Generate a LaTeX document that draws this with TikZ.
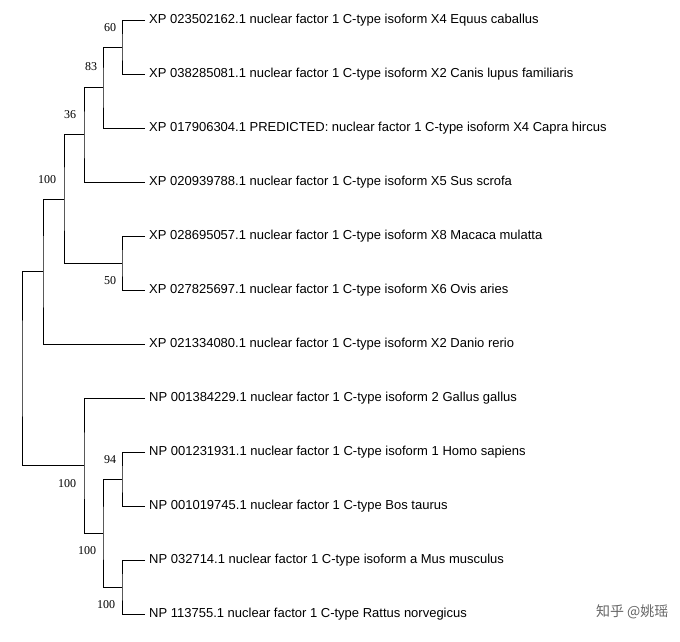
\documentclass[tikz,border=0pt]{standalone}
\usepackage{fontspec}
\setmainfont{Liberation Sans}
\newfontfamily\bsfont{Liberation Serif}
\newfontfamily\cjk{Noto Sans CJK SC}
\begin{document}
\begin{tikzpicture}[x=1pt,y=-1pt,
  br/.style={draw=black,line width=0.8pt},
  leaf/.style={anchor=west,font=\fontsize{13}{15}\selectfont,inner sep=0pt},
  bs/.style={font=\bsfont\fontsize{12}{14}\selectfont,inner sep=0pt}]
\useasboundingbox (0,0) rectangle (680,642);
\fill[white] (0,0) rectangle (680,642);
% leaves
\foreach \i/\y/\t in {1/20/{XP 023502162.1 nuclear factor 1 C-type isoform X4 Equus caballus},
 2/74/{XP 038285081.1 nuclear factor 1 C-type isoform X2 Canis lupus familiaris},
 3/128/{XP 017906304.1 PREDICTED: nuclear factor 1 C-type isoform X4 Capra hircus},
 4/182/{XP 020939788.1 nuclear factor 1 C-type isoform X5 Sus scrofa},
 5/236/{XP 028695057.1 nuclear factor 1 C-type isoform X8 Macaca mulatta},
 6/290/{XP 027825697.1 nuclear factor 1 C-type isoform X6 Ovis aries},
 7/344/{XP 021334080.1 nuclear factor 1 C-type isoform X2 Danio rerio},
 8/398/{NP 001384229.1 nuclear factor 1 C-type isoform 2 Gallus gallus},
 9/452/{NP 001231931.1 nuclear factor 1 C-type isoform 1 Homo sapiens},
 10/506/{NP 001019745.1 nuclear factor 1 C-type Bos taurus},
 11/560/{NP 032714.1 nuclear factor 1 C-type isoform a Mus musculus},
 12/614/{NP 113755.1 nuclear factor 1 C-type Rattus norvegicus}}
 {\node[leaf] (L\i) at (149,\y) {\t}; \coordinate (E\i) at (145,\y);}
% internal nodes
\coordinate (A) at (122,47);
\coordinate (B) at (103,87.5);
\coordinate (C) at (84,134.75);
\coordinate (D) at (122,263);
\coordinate (E) at (64,198.9);
\coordinate (F) at (43,271.4);
\coordinate (G) at (122,479);
\coordinate (H) at (122,587);
\coordinate (I) at (103,533);
\coordinate (J) at (84,465.5);
\coordinate (R) at (22,368.5);
\newcommand{\clade}[3]{\draw[br] (#2) -| (#1) |- (#3);}
\clade{A}{E1}{E2}
\clade{B}{A}{E3}
\clade{C}{B}{E4}
\clade{D}{E5}{E6}
\clade{E}{C}{D}
\clade{F}{E}{E7}
\clade{G}{E9}{E10}
\clade{H}{E11}{E12}
\clade{I}{G}{H}
\clade{J}{E8}{I}
\clade{R}{F}{J}
% bootstrap labels
\node[bs] (b1) at (110,28) {60};
\node[bs] (b2) at (91,67) {83};
\node[bs] (b3) at (70,115) {36};
\node[bs] (b4) at (110,281) {50};
\node[bs] (b5) at (47,180) {100};
\node[bs] (b6) at (110,460) {94};
\node[bs] (b7) at (67,484) {100};
\node[bs] (b8) at (87,551) {100};
\node[bs] (b9) at (106,605) {100};
\node[font=\cjk\fontsize{14}{16}\selectfont,text=black!60,anchor=east] (wm) at (672,612) {知乎 @姚瑶};
\end{tikzpicture}
\end{document}
